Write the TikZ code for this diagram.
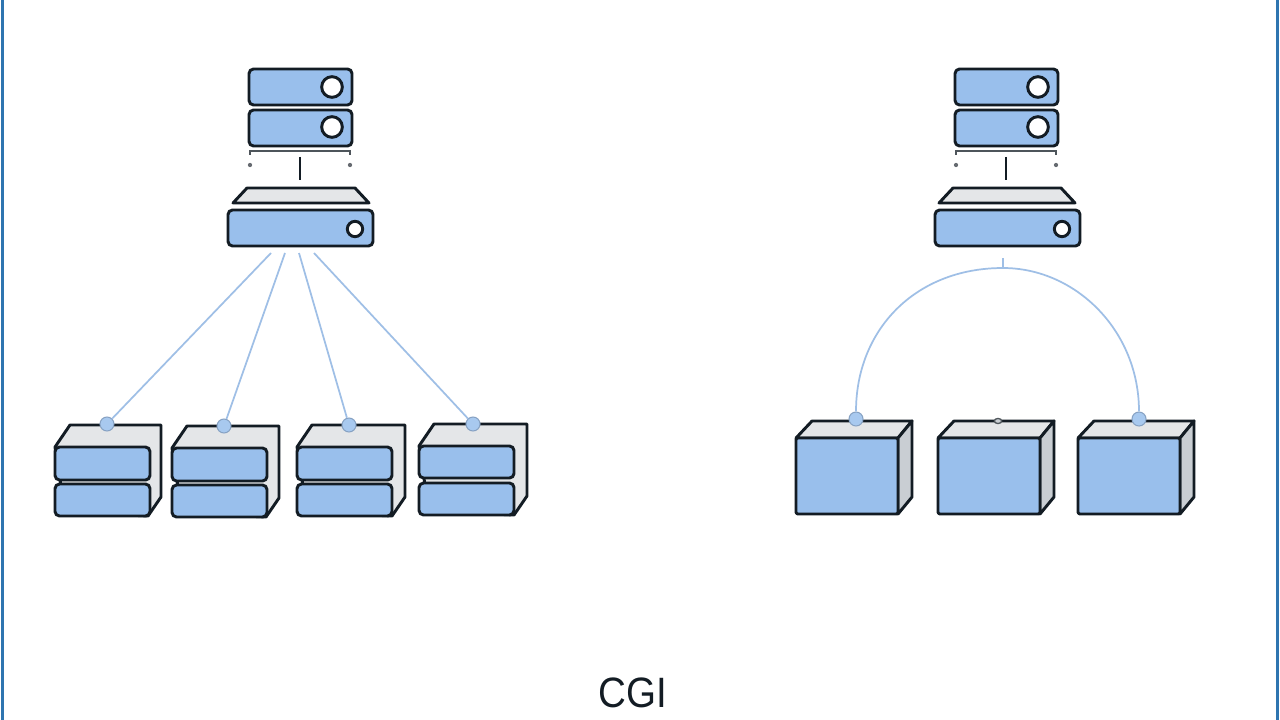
\documentclass[tikz,border=0pt]{standalone}
\usepackage{fontspec}
\usetikzlibrary{shapes.geometric}
\setmainfont{Liberation Sans}
\definecolor{ublue}{HTML}{99BFEC}
\definecolor{link}{HTML}{9FBFE6}
\definecolor{ink}{HTML}{131C24}
\definecolor{lgrey}{HTML}{E4E6E8}
\definecolor{mgrey}{HTML}{C9CED3}
\definecolor{edge}{HTML}{2F75B0}
\tikzset{
  x=0.75pt,y=-0.75pt,
  outline/.style={draw=ink,line width=2.2pt,line join=round},
  unit/.style={outline,fill=ublue,rounded corners=3.4pt,inner sep=0pt,outer sep=0pt,anchor=north west},
  lamp/.style={circle,draw=ink,line width=2.2pt,fill=white,inner sep=0pt,outer sep=0pt},
  port/.style={circle,draw=link!85!black,line width=.8pt,fill=ublue!85!white,inner sep=0pt,minimum size=10.5pt},
  pinhole/.style={ellipse,draw=ink!75,line width=1pt,fill=mgrey,inner sep=0pt,minimum width=5.5pt,minimum height=3.8pt},
  link/.style={draw=link,line width=1.3pt},
  thin rule/.style={draw=ink!75,line width=.9pt},
  tick/.style={circle,fill=ink!65,inner sep=0pt,minimum size=3.2pt},
}
% \unitbox{name}{left}{top}{right}{bottom}  (pixels)
\newcommand{\unitbox}[5]{%
  \pgfmathsetmacro{\uw}{(#4-#2)*0.75}\pgfmathsetmacro{\uh}{(#5-#3)*0.75}%
  \node[unit,minimum width=\uw pt,minimum height=\uh pt] (#1) at (#2,#3) {};}
% server stack: name, x offset of the stack, x offset of the base unit (pixels)
\newcommand{\serverstack}[3]{%
  \begin{scope}[xshift=#2*0.75pt]
    \unitbox{#1a}{249}{69}{352}{105}
    \unitbox{#1b}{249}{110}{352}{146}
    \node[lamp,minimum size=15.5pt] (#1la) at (332,87) {};
    \node[lamp,minimum size=15.5pt] (#1lb) at (332,127) {};
    \draw[thin rule] (250,155) -- (250,151) -- (350,151) -- (350,155);
    \node[tick] (#1tl) at (250,165) {};
    \node[tick] (#1tr) at (350,165) {};
    \coordinate (#1up) at (300,157);
    \coordinate (#1dn) at (300,180);
    \draw[draw=ink,line width=1.6pt] (#1up) -- (#1dn);
    \draw[outline,fill=lgrey] (233,203) -- (247,188) -- (355,188) -- (369,203) -- cycle;
  \end{scope}
  \begin{scope}[xshift=#3*0.75pt]
    \unitbox{#1c}{228}{210}{373}{246}
    \node[lamp,minimum size=11.5pt] (#1lc) at (355,229) {};
  \end{scope}}
% layered box: name, top-back y, front left, right-back x, y1..y4
\newcommand{\stackbox}[8]{%
  \draw[outline,fill=lgrey] (#3,#5) -- (#3+15,#2) -- (#4,#2) -- (#4,#8-19) -- (#4-13,#8) -- (#3+10,#8-4) -- cycle;
  \unitbox{#1a}{#3}{#5}{#3+95}{#6}
  \unitbox{#1b}{#3}{#7}{#3+95}{#8}}
% solid box: name, left
\newcommand{\solidbox}[2]{%
  \draw[outline,fill=lgrey] (#2,438) -- (#2+16,421) -- (#2+116,421) -- (#2+102,438) -- cycle;
  \draw[outline,fill=mgrey] (#2+102,438) -- (#2+116,421) -- (#2+116,497) -- (#2+102,514) -- cycle;
  \draw[outline,fill=ublue,rounded corners=1.5pt] (#2,438) -- (#2+102,438) -- (#2+102,514) -- (#2,514) -- cycle;
  \coordinate (#1) at (#2,438);}
\begin{document}
\begin{tikzpicture}
\useasboundingbox (0,0) rectangle (1280,720);
\fill[white] (0,0) rectangle (1280,720);
\coordinate (bl1) at (2.5,0); \coordinate (bl2) at (2.5,720);
\coordinate (br1) at (1277.5,0); \coordinate (br2) at (1277.5,720);
\draw[draw=edge,line width=2.6pt] (bl1) -- (bl2);
\draw[draw=edge,line width=2.6pt] (br1) -- (br2);

\serverstack{L}{0}{0}
\serverstack{R}{706}{707}

% left boxes
\stackbox{A}{425}{55}{161}{447}{480}{484}{516}
\stackbox{B}{426}{172}{279}{448}{481}{485}{517}
\stackbox{C}{425}{297}{405}{447}{480}{484}{516}
\stackbox{D}{424}{419}{527}{446}{478}{483}{515}
\node[port] (pa) at (107,424) {};
\node[port] (pb) at (224,426) {};
\node[port] (pc) at (349,425) {};
\node[port] (pd) at (473,424) {};
\coordinate (sa) at (271,253);
\coordinate (sb) at (285,253);
\coordinate (sc) at (299,253);
\coordinate (sd) at (314,253);
\draw[link] (sa) -- (pa);
\draw[link] (sb) -- (pb);
\draw[link] (sc) -- (pc);
\draw[link] (sd) -- (pd);

% right boxes
\solidbox{E}{796}
\solidbox{F}{938}
\solidbox{G}{1078}
\node[port] (pe) at (856,419) {};
\node[pinhole] (pf) at (998,421) {};
\node[port] (pg) at (1139,419) {};
\coordinate (stubtop) at (1003,258);
\coordinate (apex) at (1003,268);
\draw[link] (stubtop) -- (apex);
\draw[link] (pe.north) .. controls (856,330) and (915,268) .. (apex)
            .. controls (1075,268) and (1139,330) .. (pg.north);

\node[font=\fontsize{29.5pt}{32pt}\selectfont,text=ink,inner sep=0pt,xscale=.98,yscale=1.08] (title) at (633,693) {CGI};
\end{tikzpicture}
\end{document}
